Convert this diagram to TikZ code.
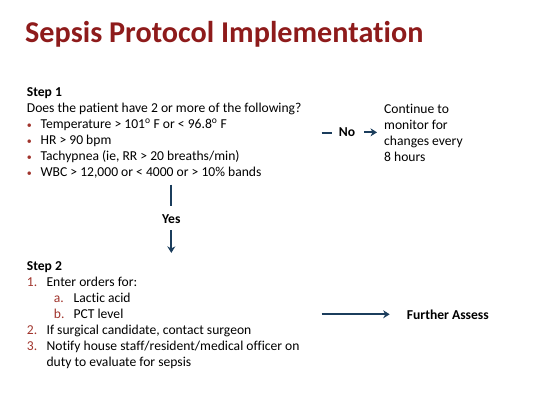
\documentclass[tikz,border=0pt]{standalone}
\usepackage{fontspec}
\setmainfont{Carlito}[Ligatures=NoCommon]
\usetikzlibrary{positioning,arrows.meta}

\definecolor{titlered}{HTML}{8E1B1B}
\definecolor{numred}{HTML}{A0342C}
\definecolor{flowblue}{HTML}{1B3D5C}

\newcommand{\bul}{\makebox[13.7pt][l]{\raisebox{0.6pt}{\fontsize{10}{10}\selectfont\textcolor{numred}{\textbullet}}}}
\newcommand{\numit}[1]{\makebox[19.7pt][l]{\textcolor{numred}{#1}}}

\tikzset{
  body/.style={anchor=base west, inner sep=0pt, align=left,
    font=\fontsize{13.6}{16}\selectfont},
  label/.style={anchor=base, inner sep=0pt,
    font=\fontsize{13.6}{16}\selectfont\bfseries},
  conn/.style={draw=flowblue, line width=2pt},
  tip/.style={conn, -{Stealth[length=6.5pt,width=8pt]}},
}

\begin{document}
\begin{tikzpicture}[x=1pt,y=-1pt]
\useasboundingbox (0,0) rectangle (540,405);

\node (title) [anchor=base west, inner sep=0pt, text=titlered,
  font=\fontsize{30.2}{34}\selectfont\bfseries] at (25,42) {Sepsis Protocol Implementation};

% step 1 block (placed by its last baseline)
\node (step1) [body] at (26.7,176.7) {\textbf{Step 1}\\
Does the patient have 2 or more of the following?\\
\bul Temperature > 101\textsuperscript{o} F or < 96.8\textsuperscript{o} F\\
\bul HR > 90 bpm\\
\bul Tachypnea (ie, RR > 20 breaths/min)\\
\bul WBC > 12,000 or < 4000 or > 10\% bands};

\node (monitor) [body] at (384,161) {Continue to\\ monitor for\\ changes every\\ 8 hours};
\node (no) [label] at (347,136.7) {No};
\coordinate (nodash) at (321.7,133);

% step 2 block
\node (step2) [body] at (26.7,366) {\textbf{Step 2}\\
\numit{1.}Enter orders for:\\
\hspace*{27pt}\numit{a.}Lactic acid\\
\hspace*{27pt}\numit{b.}PCT level\\
\numit{2.}If surgical candidate, contact surgeon\\
\numit{3.}Notify house staff/resident/medical officer on\\
\hspace*{19.7pt}duty to evaluate for sepsis};

\node (yes) [label] at (171.3,223) {Yes};
\node (further) [label, anchor=base west] at (406.7,319) {Further Assess};

% connectors
\draw [conn, shorten >=7pt] (nodash -| nodash) -- (nodash -| no.west);
\draw [tip, shorten <=9pt, shorten >=7pt] (no.east) -- (no.east -| monitor.west);
\draw [conn, shorten <=6pt, shorten >=7.5pt] (yes.north |- step1.south) -- (yes.north);
\draw [tip, shorten <=7pt, shorten >=8pt] (yes.south) -- (yes.south |- step2.north);
\draw [tip, shorten >=17pt] (further.west -| nodash) -- (further.west);
\end{tikzpicture}
\end{document}
